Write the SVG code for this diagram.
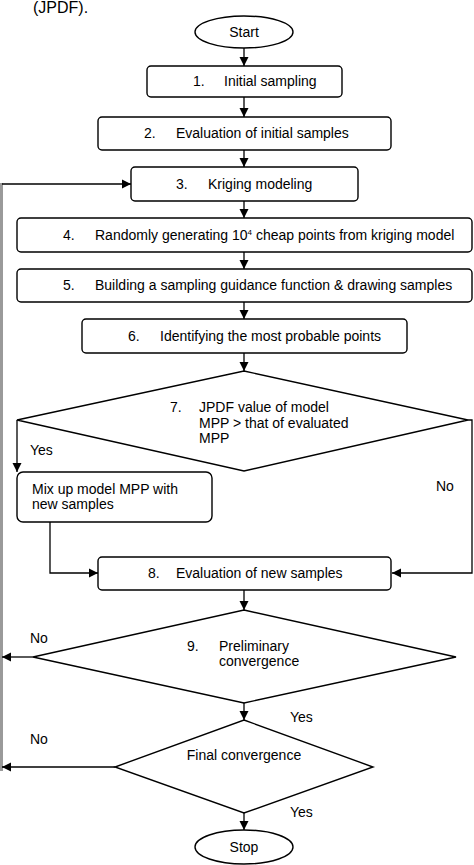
<svg xmlns="http://www.w3.org/2000/svg" width="474" height="865" viewBox="0 0 474 865">
<defs>
<marker id="ah" markerWidth="10" markerHeight="10" refX="9" refY="5" orient="auto" markerUnits="userSpaceOnUse">
<path d="M0,0.5 L9,5 L0,9.5 Z" fill="#000"/>
</marker>
</defs>
<style>
text{font-family:"Liberation Sans",Arial,sans-serif;font-size:14px;fill:#000}
.box{fill:#fff;stroke:#000;stroke-width:1.4}
.c{fill:none;stroke:#000;stroke-width:1.3}
.mid{text-anchor:middle}
</style>
<rect width="474" height="865" fill="#fff"/>
<text x="33" y="13" style="font-size:16px">(JPDF).</text>
<g id="connectors">
<rect x="0" y="183" width="3" height="588" fill="#9a9a9a"/>
<line class="c" x1="244" y1="48" x2="244" y2="66" marker-end="url(#ah)"/>
<line class="c" x1="244" y1="97" x2="244" y2="117" marker-end="url(#ah)"/>
<line class="c" x1="244" y1="150" x2="244" y2="167" marker-end="url(#ah)"/>
<line class="c" x1="2" y1="184" x2="131" y2="184" marker-end="url(#ah)"/>
<line class="c" x1="244" y1="201" x2="244" y2="218" marker-end="url(#ah)"/>
<line class="c" x1="244" y1="252" x2="244" y2="269" marker-end="url(#ah)"/>
<line class="c" x1="244" y1="302" x2="244" y2="319" marker-end="url(#ah)"/>
<line class="c" x1="244" y1="353" x2="244" y2="371" marker-end="url(#ah)"/>
<polyline class="c" points="17,420 17,472" marker-end="url(#ah)"/>
<polyline class="c" points="50,522 50,573 98,573" marker-end="url(#ah)"/>
<polyline class="c" points="468,420 472,420 472,573 392,573" marker-end="url(#ah)"/>
<line class="c" x1="244" y1="590" x2="244" y2="610" marker-end="url(#ah)"/>
<line class="c" x1="33" y1="657" x2="2" y2="657" marker-end="url(#ah)"/>
<line class="c" x1="244" y1="703" x2="244" y2="720" marker-end="url(#ah)"/>
<line class="c" x1="115" y1="767" x2="2" y2="767" marker-end="url(#ah)"/>
<line class="c" x1="244" y1="813" x2="244" y2="830" marker-end="url(#ah)"/>
<text x="30" y="455">Yes</text>
<text x="436" y="491">No</text>
<text x="30" y="643">No</text>
<text x="290" y="722">Yes</text>
<text x="30" y="744">No</text>
<text x="290" y="817">Yes</text>
</g>
<g id="start">
<ellipse class="box" cx="244" cy="32" rx="49" ry="16"/>
<text class="mid" x="244" y="37">Start</text>
</g>
<g id="n1">
<rect class="box" x="147" y="66" width="195" height="31" rx="4"/>
<text x="193" y="86">1.</text><text x="224" y="86">Initial sampling</text>
</g>
<g id="n2">
<rect class="box" x="98" y="117" width="293" height="33" rx="4"/>
<text x="144" y="138">2.</text><text x="176" y="138">Evaluation of initial samples</text>
</g>
<g id="n3">
<rect class="box" x="131" y="167" width="227" height="34" rx="4"/>
<text x="176" y="189">3.</text><text x="208" y="189">Kriging modeling</text>
</g>
<g id="n4">
<rect class="box" x="17" y="218" width="455" height="34" rx="4"/>
<text x="63" y="240">4.</text><text x="95" y="240">Randomly generating 10<tspan dy="-5" style="font-size:8px">4</tspan><tspan dy="5"> cheap points from kriging model</tspan></text>
</g>
<g id="n5">
<rect class="box" x="17" y="269" width="455" height="33" rx="4"/>
<text x="63" y="290">5.</text><text x="95" y="290">Building a sampling guidance function &amp; drawing samples</text>
</g>
<g id="n6">
<rect class="box" x="82" y="319" width="325" height="34" rx="4"/>
<text x="128" y="341">6.</text><text x="160" y="341">Identifying the most probable points</text>
</g>
<g id="n7">
<polygon class="box" points="244,371 468,420 244,471 17,420"/>
<text x="170" y="412">7.</text>
<text x="199" y="412">JPDF value of model</text>
<text x="199" y="428">MPP &gt; that of evaluated</text>
<text x="199" y="443">MPP</text>
</g>
<g id="mix">
<rect class="box" x="17" y="472" width="195" height="50" rx="6"/>
<text x="32" y="494">Mix up model MPP with</text>
<text x="32" y="509">new samples</text>
</g>
<g id="n8">
<rect class="box" x="98" y="557" width="293" height="33" rx="4"/>
<text x="148" y="578">8.</text><text x="176" y="578">Evaluation of new samples</text>
</g>
<g id="n9">
<polygon class="box" points="244,610 456,657 244,703 33,657"/>
<text x="187" y="651">9.</text>
<text x="219" y="651">Preliminary</text>
<text x="219" y="666">convergence</text>
</g>
<g id="n10">
<polygon class="box" points="244,720 373,767 244,813 115,767"/>
<text class="mid" x="244" y="760">Final convergence</text>
</g>
<g id="stop">
<ellipse class="box" cx="244" cy="847" rx="49" ry="17"/>
<text class="mid" x="244" y="852">Stop</text>
</g>
</svg>
